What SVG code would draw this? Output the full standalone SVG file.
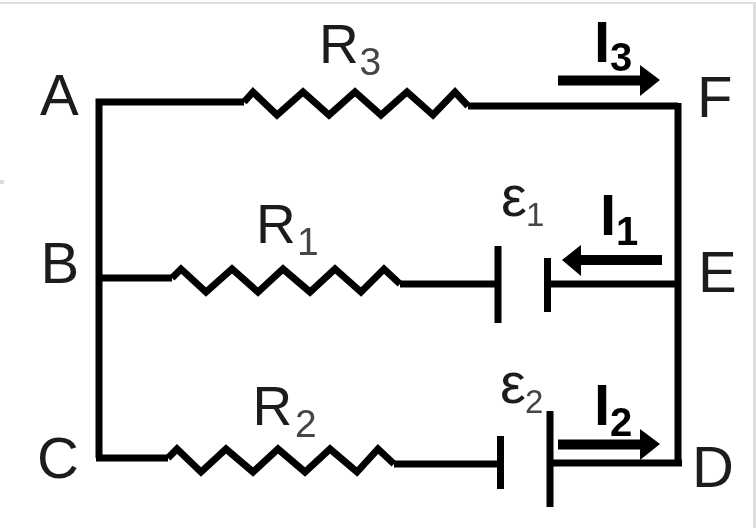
<svg xmlns="http://www.w3.org/2000/svg" width="756" height="528" viewBox="0 0 756 528">
<style>
.w{fill:none;stroke:#000;stroke-width:7;stroke-linejoin:miter;stroke-linecap:butt}
.a{fill:none;stroke:#000;stroke-width:10}
.h{fill:#000}
text{font-family:"Liberation Sans",Arial,sans-serif;fill:#1a1a1a}
.l{font-size:58px}
.r{font-size:55px}
.s{font-size:39px;fill:#444}
.e{font-size:58px}
.es{font-size:33px;fill:#444}
.b{font-size:58px;font-weight:bold;fill:#000}
.bs{font-size:40px;font-weight:bold;fill:#000}
</style>
<defs><filter id="soft" x="-5%" y="-5%" width="110%" height="110%"><feGaussianBlur stdDeviation="0.5"/></filter></defs>
<rect width="756" height="528" fill="#fff"/>
<g id="frame" fill="#ddd"><rect x="0" y="2" width="756" height="2"/><rect x="753" y="2" width="3" height="526"/><rect x="0" y="180" width="4" height="4"/></g>
<g filter="url(#soft)">
<g id="connectors">
<path class="w" d="M678 106H468M244 102H99V458M99 278H172M400 284H498M547 284H678M678 103V466M96 458H168M394 464H500M550 463H682"/>
</g>
<g id="R3"><path class="w" d="M244 102L253 92L277 115L303 92L329 115L355 92L381 115L407 92L433 115L455 92L468 106"/><text class="r" x="319" y="63">R<tspan class="s" x="359.500" y="75">3</tspan></text></g>
<g id="R1"><path class="w" d="M172 278L181 269L206 292L232 269L258 292L283 269L310 292L335 269L361 292L384 269L400 284"/><text class="r" x="256" y="243">R<tspan class="s" x="297" y="255">1</tspan></text></g>
<g id="R2"><path class="w" d="M168 458L177 449L201 472L226 449L253 472L278 449L305 472L330 449L357 472L378 449L394 464"/><text class="r" x="252.500" y="425">R<tspan class="s" x="295" y="437">2</tspan></text></g>
<g id="E1"><path class="w" d="M498 246V323M547.500 258V312"/><text class="e" x="501" y="216">ε<tspan class="es" x="526" y="226">1</tspan></text></g>
<g id="E2"><path class="w" d="M500.500 436V489M550 411V507"/><text class="e" x="500" y="403">ε<tspan class="es" x="525" y="413">2</tspan></text></g>
<g id="I3"><path class="a" d="M558 80.500H642"/><path class="h" d="M640 65L660 80L640 96Z"/><text class="b" x="594" y="62">I<tspan class="bs" x="610" y="71">3</tspan></text></g>
<g id="I1"><path class="a" d="M662 260H578"/><path class="h" d="M581 245L562 260L581 276Z"/><text class="b" x="600" y="235">I<tspan class="bs" x="616" y="245">1</tspan></text></g>
<g id="I2"><path class="a" d="M558 444.500H642"/><path class="h" d="M640 429L660 444L640 460Z"/><text class="b" x="594" y="425">I<tspan class="bs" x="610" y="436">2</tspan></text></g>
<g id="A"><text class="l" x="40" y="115">A</text></g>
<g id="B"><text class="l" x="40.500" y="283">B</text></g>
<g id="C"><text class="l" x="37" y="478">C</text></g>
<g id="D"><text class="l" x="692" y="487">D</text></g>
<g id="E"><text class="l" x="698" y="292">E</text></g>
<g id="F"><text class="l" x="697" y="117">F</text></g>
</g>
</svg>
